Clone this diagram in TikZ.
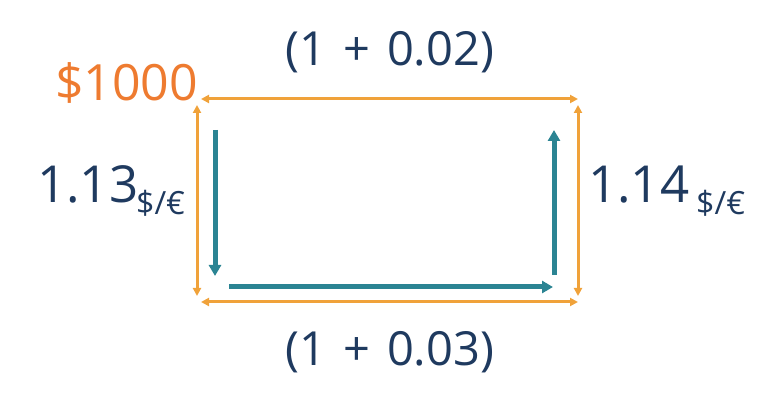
\documentclass[tikz,border=0pt]{standalone}
\usepackage{fontspec}
\setmainfont{Open Sans}
\usetikzlibrary{arrows.meta}
\definecolor{navy}{HTML}{1F3A5F}
\definecolor{orangetxt}{HTML}{EE7B30}
\definecolor{orangeln}{HTML}{F0A23A}
\definecolor{tealln}{HTML}{2B8493}
\tikzset{
  frame/.style={draw=orangeln, line width=3pt, {Triangle[length=8pt,width=8pt]}-{Triangle[length=8pt,width=8pt]}},
  flow/.style={draw=tealln, line width=5pt, -{Triangle[length=11pt,width=12pt]}},
  big/.style={font=\fontsize{51}{55}\selectfont, text=navy, inner sep=0pt},
  mid/.style={font=\fontsize{47}{52}\selectfont, text=navy, inner sep=0pt},
  small/.style={font=\fontsize{32}{36}\selectfont, text=navy, inner sep=0pt}
}
\begin{document}
\begin{tikzpicture}[x=1pt,y=-1pt]
\useasboundingbox (0,0) rectangle (768,419);
% frame coordinates
\coordinate (t1) at (201,99);
\coordinate (t2) at (578,99);
\coordinate (b1) at (201,302);
\coordinate (b2) at (578,302);
\coordinate (l1) at (197,105);
\coordinate (l2) at (197,296);
\coordinate (r1) at (578,105);
\coordinate (r2) at (578,296);
\draw[frame] (t1) -- (t2);
\draw[frame] (b1) -- (b2);
\draw[frame] (l1) -- (l2);
\draw[frame] (r1) -- (r2);
% teal flow
\coordinate (f1) at (215,130);
\coordinate (f2) at (215,276);
\coordinate (f3) at (229,287);
\coordinate (f4) at (553,287);
\coordinate (f5) at (554,275);
\coordinate (f6) at (554,130);
\draw[flow] (f1) -- (f2);
\draw[flow] (f3) -- (f4);
\draw[flow] (f5) -- (f6);
% texts
\node[font=\fontsize{50}{54}\selectfont, inner sep=0pt, text=orangetxt] (amt) at (126.5,82.5) {\$1000};
\node[mid] (top) at (390,52) {(1\hspace{5pt} + \hspace{4pt}0.02)};
\node[mid] (bot) at (390,352) {(1\hspace{5pt} + \hspace{4pt}0.03)};
\node[big, anchor=base west] (r13) at (37,203) {1.13};
\node[small, anchor=base west] (u13) at (136,215) {\$/€};
\node[big, anchor=base west] (r14) at (588,203) {1.14};
\node[small, anchor=base west] (u14) at (696,215) {\$/€};
\end{tikzpicture}
\end{document}
